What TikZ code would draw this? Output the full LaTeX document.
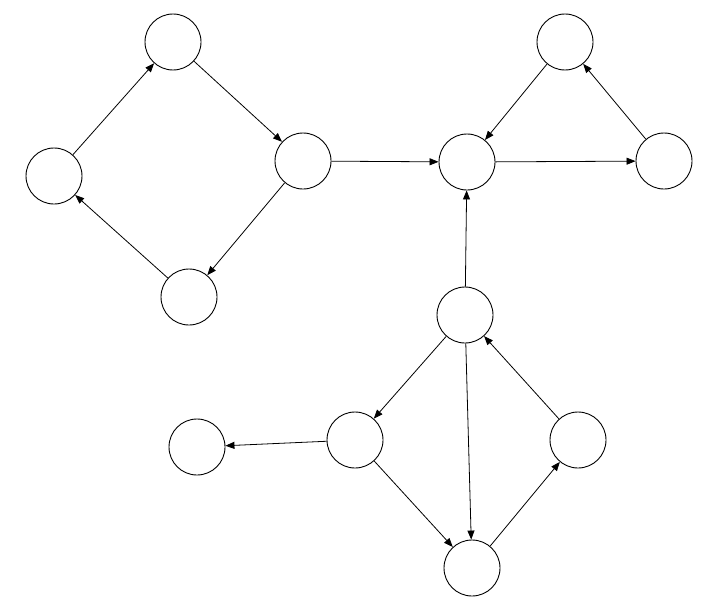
\documentclass[tikz,border=0pt]{standalone}
\usetikzlibrary{arrows.meta}
\begin{document}
\begin{tikzpicture}[x=1pt,y=-1pt,
  vtx/.style={circle,draw=black,line width=0.9pt,minimum size=56pt,inner sep=0pt},
  edge/.style={draw=black,line width=0.8pt,-{Triangle[length=9pt,width=7pt]}}]
\useasboundingbox (0,0) rectangle (726,613);
\node[vtx] (A) at (173,42) {};
\node[vtx] (B) at (54,176) {};
\node[vtx] (C) at (303,161) {};
\node[vtx] (D) at (189,297) {};
\node[vtx] (E) at (467,162) {};
\node[vtx] (F) at (565,42) {};
\node[vtx] (G) at (664,161) {};
\node[vtx] (H) at (465,315) {};
\node[vtx] (I) at (355,440) {};
\node[vtx] (J) at (197,447) {};
\node[vtx] (K) at (578,440) {};
\node[vtx] (L) at (472,568) {};
\draw[edge] (B) -- (A);
\draw[edge] (A) -- (C);
\draw[edge] (C) -- (D);
\draw[edge] (D) -- (B);
\draw[edge] (C) -- (E);
\draw[edge] (F) -- (E);
\draw[edge] (E) -- (G);
\draw[edge] (G) -- (F);
\draw[edge] (H) -- (E);
\draw[edge] (H) -- (I);
\draw[edge] (I) -- (J);
\draw[edge] (H) -- (L);
\draw[edge] (I) -- (L);
\draw[edge] (L) -- (K);
\draw[edge] (K) -- (H);
\end{tikzpicture}
\end{document}
